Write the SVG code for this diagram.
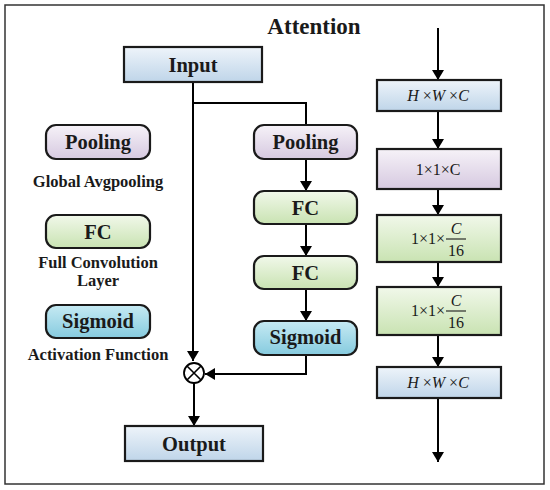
<svg xmlns="http://www.w3.org/2000/svg" width="550" height="490" viewBox="0 0 550 490">
<defs>
<linearGradient id="gBlue" x1="0" y1="0" x2="0" y2="1"><stop offset="0" stop-color="#eef4fa"/><stop offset="1" stop-color="#bfd5e9"/></linearGradient>
<linearGradient id="gPurple" x1="0" y1="0" x2="0" y2="1"><stop offset="0" stop-color="#f6f2f8"/><stop offset="1" stop-color="#d6c9e0"/></linearGradient>
<linearGradient id="gGreen" x1="0" y1="0" x2="0" y2="1"><stop offset="0" stop-color="#f1f8ea"/><stop offset="1" stop-color="#c9e3b2"/></linearGradient>
<linearGradient id="gCyan" x1="0" y1="0" x2="0" y2="1"><stop offset="0" stop-color="#c6eaf3"/><stop offset="1" stop-color="#86cbdf"/></linearGradient>
<marker id="arr" markerWidth="10" markerHeight="12" refX="10" refY="6" orient="auto" markerUnits="userSpaceOnUse"><path d="M0,0 L10,6 L0,12 Z" fill="#000"/></marker>
</defs>
<style>
.box{stroke:#1a1a1a;stroke-width:2.2}
.lbl{font-family:"Liberation Serif","DejaVu Serif",serif;font-weight:bold;font-size:20.5px;text-anchor:middle;fill:#1a1a1a}
.ttl{font-family:"Liberation Serif","DejaVu Serif",serif;font-weight:bold;font-size:23px;text-anchor:middle;fill:#1a1a1a}
.cap{font-family:"Liberation Serif","DejaVu Serif",serif;font-weight:bold;font-size:16.5px;text-anchor:middle;fill:#1a1a1a}
.math{font-family:"Liberation Serif","DejaVu Serif",serif;font-size:16px;text-anchor:middle;fill:#1a1a1a}
.it{font-style:italic}
.ln{fill:none;stroke:#000;stroke-width:2}
</style>
<rect x="5" y="5" width="539" height="479" fill="#fff" stroke="#333" stroke-width="1.5"/>
<text x="314" y="34" class="ttl">Attention</text>

<g id="connectors">
<path class="ln" d="M193,82 V361" marker-end="url(#arr)"/>
<path class="ln" d="M193,103 H306 V125"/>
<path class="ln" d="M306,159 V191" marker-end="url(#arr)"/>
<path class="ln" d="M306,224 V256" marker-end="url(#arr)"/>
<path class="ln" d="M306,289 V321" marker-end="url(#arr)"/>
<path class="ln" d="M306,355 V374 H205" marker-end="url(#arr)"/>
<path class="ln" d="M194,383 V426" marker-end="url(#arr)"/>
<path class="ln" d="M438,28 V80" marker-end="url(#arr)"/>
<path class="ln" d="M438,111 V149" marker-end="url(#arr)"/>
<path class="ln" d="M438,189 V215" marker-end="url(#arr)"/>
<path class="ln" d="M438,262 V287" marker-end="url(#arr)"/>
<path class="ln" d="M438,335 V367" marker-end="url(#arr)"/>
<path class="ln" d="M438,398 V462" marker-end="url(#arr)"/>
</g>

<g id="input"><rect class="box" x="124" y="47" width="138" height="35" fill="url(#gBlue)"/><text class="lbl" x="193" y="72">Input</text></g>
<g id="legend-pooling"><rect class="box" x="46" y="125" width="104" height="34" rx="10" fill="url(#gPurple)"/><text class="lbl" x="98" y="149">Pooling</text><text class="cap" x="98" y="187">Global Avgpooling</text></g>
<g id="legend-fc"><rect class="box" x="46" y="215" width="104" height="33" rx="10" fill="url(#gGreen)"/><text class="lbl" x="98" y="239">FC</text><text class="cap" x="98" y="268">Full Convolution</text><text class="cap" x="98" y="286">Layer</text></g>
<g id="legend-sigmoid"><rect class="box" x="46" y="305" width="104" height="33" rx="10" fill="url(#gCyan)"/><text class="lbl" x="98" y="328">Sigmoid</text><text class="cap" x="98" y="360">Activation Function</text></g>

<g id="pooling"><rect class="box" x="254" y="125" width="103" height="34" rx="10" fill="url(#gPurple)"/><text class="lbl" x="305.5" y="149">Pooling</text></g>
<g id="fc1"><rect class="box" x="254" y="191" width="103" height="33" rx="10" fill="url(#gGreen)"/><text class="lbl" x="305.5" y="215">FC</text></g>
<g id="fc2"><rect class="box" x="254" y="256" width="103" height="33" rx="10" fill="url(#gGreen)"/><text class="lbl" x="305.5" y="280">FC</text></g>
<g id="sigmoid"><rect class="box" x="254" y="321" width="103" height="34" rx="10" fill="url(#gCyan)"/><text class="lbl" x="305.5" y="344">Sigmoid</text></g>

<g id="multiply"><circle cx="194" cy="373" r="10" fill="#fff" stroke="#000" stroke-width="1.8"/><path d="M187,366 L201,380 M201,366 L187,380" stroke="#000" stroke-width="1.6"/></g>
<g id="output"><rect class="box" x="125" y="426" width="138" height="35" fill="url(#gBlue)"/><text class="lbl" x="194" y="451">Output</text></g>

<g id="dim1"><rect class="box" x="377" y="80" width="124" height="31" fill="url(#gBlue)"/><text class="math" x="438" y="101"><tspan class="it">H</tspan> ×<tspan class="it">W</tspan> ×<tspan class="it">C</tspan></text></g>
<g id="dim2"><rect class="box" x="377" y="149" width="124" height="40" fill="url(#gPurple)"/><text class="math" x="438" y="175">1×1×C</text></g>
<g id="dim3"><rect class="box" x="377" y="215" width="124" height="47" fill="url(#gGreen)"/><text class="math" x="428" y="244">1×1×</text><text class="math it" x="456" y="234">C</text><line x1="446" y1="239" x2="466" y2="239" stroke="#1a1a1a" stroke-width="1.1"/><text class="math" x="456" y="256">16</text></g>
<g id="dim4"><rect class="box" x="377" y="287" width="124" height="48" fill="url(#gGreen)"/><text class="math" x="428" y="316">1×1×</text><text class="math it" x="456" y="306">C</text><line x1="446" y1="311" x2="466" y2="311" stroke="#1a1a1a" stroke-width="1.1"/><text class="math" x="456" y="328">16</text></g>
<g id="dim5"><rect class="box" x="377" y="367" width="124" height="31" fill="url(#gBlue)"/><text class="math" x="438" y="388"><tspan class="it">H</tspan> ×<tspan class="it">W</tspan> ×<tspan class="it">C</tspan></text></g>
</svg>
